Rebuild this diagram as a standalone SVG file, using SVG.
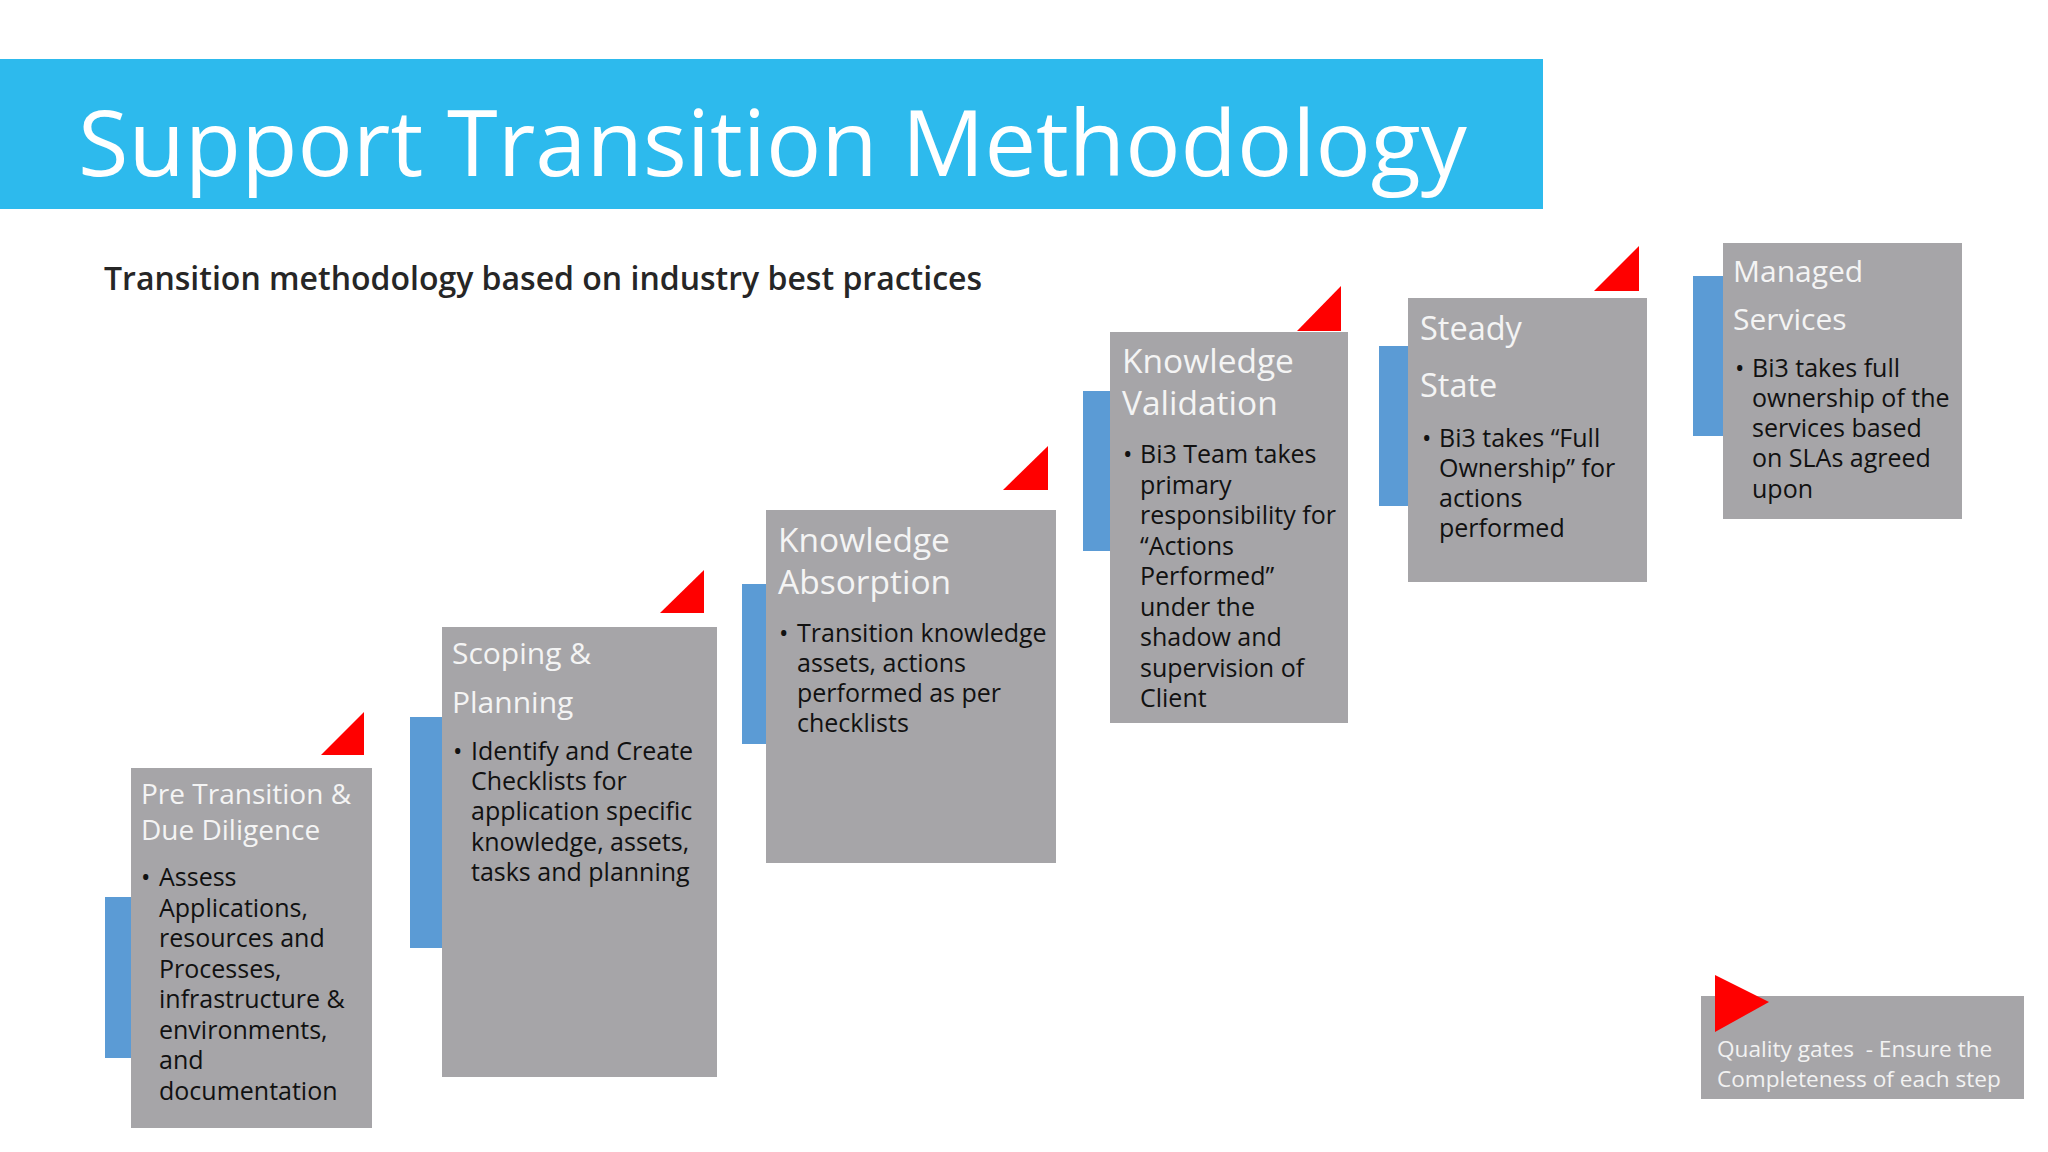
<svg xmlns="http://www.w3.org/2000/svg" width="2048" height="1152" viewBox="0 0 2048 1152">
<style>
.box{fill:#A6A5A8}
.bar{fill:#5B9BD5}
.gate{fill:#FF0000}
.ttl{font-family:"Open Sans","Noto Sans","Liberation Sans",sans-serif;font-size:28px;fill:#F4F4F4}
.bul{font-family:"Open Sans","Noto Sans","Liberation Sans",sans-serif;font-size:25px;font-weight:500;fill:#111111}
</style>
<rect x="0" y="0" width="2048" height="1152" fill="#FFFFFF"/>
<g id="header">
<rect x="0" y="59" width="1543" height="150" fill="#2DBAED"/>
<text x="78" y="176" font-family="'Open Sans','Noto Sans','Liberation Sans',sans-serif" font-size="92" fill="#FFFFFF">Support Transition Methodology</text>
<text x="104" y="290" font-family="'Open Sans','Noto Sans','Liberation Sans',sans-serif" font-size="32" font-weight="600" fill="#262626">Transition methodology based on industry best practices</text>
</g>
<g id="connectors"></g>
<g id="step1">
<rect class="bar" x="105" y="897" width="26" height="161"/>
<rect class="box" x="131" y="768" width="241" height="360"/>
<polygon class="gate" points="364,712 364,755 321,755"/>
<text class="ttl"><tspan x="141" y="804">Pre Transition &amp;</tspan><tspan x="141" y="840">Due Diligence</tspan></text>
<text class="bul" x="141" y="886">•</text>
<text class="bul"><tspan x="159" y="886">Assess</tspan><tspan x="159" y="917">Applications,</tspan><tspan x="159" y="947">resources and</tspan><tspan x="159" y="978">Processes,</tspan><tspan x="159" y="1008">infrastructure &amp;</tspan><tspan x="159" y="1039">environments,</tspan><tspan x="159" y="1069">and</tspan><tspan x="159" y="1100">documentation</tspan></text>
</g>
<g id="step2">
<rect class="bar" x="410" y="717" width="32" height="231"/>
<rect class="box" x="442" y="627" width="275" height="450"/>
<polygon class="gate" points="704,570 704,613 660,613"/>
<text class="ttl" style="font-size:30px"><tspan x="452" y="664">Scoping &amp;</tspan><tspan x="452" y="713">Planning</tspan></text>
<text class="bul" x="453" y="760">•</text>
<text class="bul"><tspan x="471" y="760">Identify and Create</tspan><tspan x="471" y="790">Checklists for</tspan><tspan x="471" y="820">application specific</tspan><tspan x="471" y="851">knowledge, assets,</tspan><tspan x="471" y="881">tasks and planning</tspan></text>
</g>
<g id="step3">
<rect class="bar" x="742" y="584" width="24" height="160"/>
<rect class="box" x="766" y="510" width="290" height="353"/>
<polygon class="gate" points="1048,446 1048,490 1003,490"/>
<text class="ttl" style="font-size:33.5px"><tspan x="778" y="552">Knowledge</tspan><tspan x="778" y="594">Absorption</tspan></text>
<text class="bul" x="779" y="642">•</text>
<text class="bul"><tspan x="797" y="642">Transition knowledge</tspan><tspan x="797" y="672">assets, actions</tspan><tspan x="797" y="702">performed as per</tspan><tspan x="797" y="732">checklists</tspan></text>
</g>
<g id="step4">
<rect class="bar" x="1083" y="391" width="27" height="160"/>
<rect class="box" x="1110" y="332" width="238" height="391"/>
<polygon class="gate" points="1341,286 1341,331 1297,331"/>
<text class="ttl" style="font-size:33.5px"><tspan x="1122" y="373">Knowledge</tspan><tspan x="1122" y="415">Validation</tspan></text>
<text class="bul" x="1123" y="463">•</text>
<text class="bul"><tspan x="1140" y="463">Bi3 Team takes</tspan><tspan x="1140" y="494">primary</tspan><tspan x="1140" y="524">responsibility for</tspan><tspan x="1140" y="555">“Actions</tspan><tspan x="1140" y="585">Performed”</tspan><tspan x="1140" y="616">under the</tspan><tspan x="1140" y="646">shadow and</tspan><tspan x="1140" y="677">supervision of</tspan><tspan x="1140" y="707">Client</tspan></text>
</g>
<g id="step5">
<rect class="bar" x="1379" y="346" width="29" height="160"/>
<rect class="box" x="1408" y="298" width="239" height="284"/>
<polygon class="gate" points="1639,246 1639,291 1594,291"/>
<text class="ttl" style="font-size:32.5px"><tspan x="1420" y="340">Steady</tspan><tspan x="1420" y="397">State</tspan></text>
<text class="bul" x="1422" y="447">•</text>
<text class="bul"><tspan x="1439" y="447">Bi3 takes “Full</tspan><tspan x="1439" y="477">Ownership” for</tspan><tspan x="1439" y="507">actions</tspan><tspan x="1439" y="537">performed</tspan></text>
</g>
<g id="step6">
<rect class="bar" x="1693" y="276" width="30" height="160"/>
<rect class="box" x="1723" y="243" width="239" height="276"/>
<text class="ttl" style="font-size:30px"><tspan x="1733" y="282">Managed</tspan><tspan x="1733" y="330">Services</tspan></text>
<text class="bul" x="1735" y="377">•</text>
<text class="bul"><tspan x="1752" y="377">Bi3 takes full</tspan><tspan x="1752" y="407">ownership of the</tspan><tspan x="1752" y="437">services based</tspan><tspan x="1752" y="467">on SLAs agreed</tspan><tspan x="1752" y="498">upon</tspan></text>
</g>
<g id="legend">
<rect class="box" x="1701" y="996" width="323" height="103"/>
<polygon class="gate" points="1715,975 1769,1002 1715,1032"/>
<text font-family="'Open Sans','Noto Sans','Liberation Sans',sans-serif" font-size="22.6" fill="#F2F2F2"><tspan x="1717" y="1057" xml:space="preserve">Quality gates  - Ensure the</tspan><tspan x="1717" y="1087">Completeness of each step</tspan></text>
</g>
</svg>
